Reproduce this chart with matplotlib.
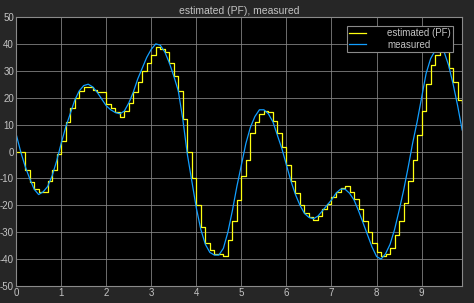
import matplotlib
matplotlib.use("Agg")
import matplotlib.pyplot as plt
import numpy as np

plt.rcParams["font.family"] = ["Liberation Sans", "DejaVu Sans"]
plt.rcParams["axes.unicode_minus"] = False

# sample times (s), step 0.1
t = np.arange(100) * 0.1

measured = [
    6.5, 0, -5.5, -10, -14, -16, -15, -13, -9, -3.5,
    3, 9, 14, 19, 22.5, 24.5, 25, 24, 22, 19.5,
    17, 15.5, 14.5, 14, 15, 18, 22, 27, 31, 35,
    38, 40, 39.5, 37, 33, 28, 22.5, 12, -1, -11,
    -21, -29, -34.5, -37.5, -38.5, -38.5, -36, -30, -22, -13,
    -5, 3, 9, 13, 15.5, 15.5, 14, 11, 6, 1,
    -5, -11, -16, -20, -23, -24.5, -25, -24, -22, -20,
    -18, -15.5, -14, -14, -15.5, -18, -22, -26.5, -31, -35.5,
    -39, -40, -38, -34.5, -29, -22, -14.5, -6, 3, 11,
    20, 29, 34.5, 37.5, 38.5, 37, 32, 25, 17, 8,
]

estimated = [
    0, 0, -7, -11.5, -14, -15, -15, -11, -7, -1,
    4, 11, 16, 20, 22.5, 24, 24, 23, 22, 22,
    17.5, 16, 14.5, 13, 15, 18, 22, 26, 30, 33,
    36, 39, 38, 37, 33, 28, 22.5, 12, 0, -10,
    -20, -28, -34, -36.5, -38, -38, -39, -33, -26, -18,
    -9, -3, 7, 11, 14, 15, 14.5, 11.5, 7, 1.5,
    -5, -11, -15.5, -20, -23, -24.5, -25.5, -24, -21.5, -19.5,
    -17, -15, -13.5, -13, -15, -17.5, -21.5, -26, -30, -34,
    -37.5, -39, -38, -36, -31, -26, -19, -11, -3, 6,
    15, 25, 32, 36, 38.5, 38, 31, 26, 19, 18,
]

fg = "#c4c4c4"
fig = plt.figure(figsize=(4.74, 3.03), dpi=100, facecolor="#262626")
ax = fig.add_axes([0.034, 0.056, 0.941, 0.888], facecolor="black")

ax.step(t, estimated, where="post", color="#ffff11", lw=0.9,
        label="estimated (PF)")
ax.plot(t, measured, color="#129fff", lw=0.9, label="measured")

ax.set_xlim(0, 9.9)
ax.set_ylim(-50, 50)
ax.set_xticks(range(10))
ax.set_yticks(range(-50, 51, 10))
ax.grid(color="#8a8a8a", lw=0.7, alpha=0.8)
ax.tick_params(colors=fg, labelsize=7, length=0, pad=1.5)
for s in ax.spines.values():
    s.set_color("#8a8a8a")
ax.set_title("estimated (PF), measured", color=fg, fontsize=7.5, pad=2)

leg = ax.legend(loc="upper right", fontsize=7, facecolor="black",
                edgecolor="#8a8a8a", labelcolor=fg, framealpha=1,
                fancybox=False, handlelength=1.7, handletextpad=2.2,
                borderaxespad=0.9, borderpad=0.25, labelspacing=0.15)
leg.get_frame().set_linewidth(0.8)

plt.savefig("out.png", dpi=100, facecolor=fig.get_facecolor())
plt.close()
